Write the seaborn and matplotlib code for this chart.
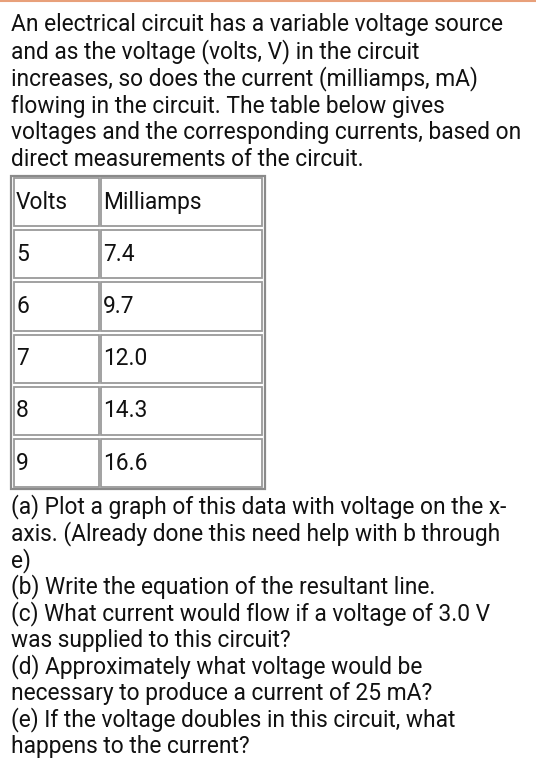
import matplotlib
matplotlib.use('Agg')
import matplotlib.pyplot as plt
import seaborn as sns
from matplotlib.patches import Rectangle

sns.set_style('white')
plt.rcParams['font.family'] = ['Roboto', 'DejaVu Sans']

intro_lines = [
    "An electrical circuit has a variable voltage source",
    "and as the voltage (volts, V) in the circuit",
    "increases, so does the current (milliamps, mA)",
    "flowing in the circuit. The table below gives",
    "voltages and the corresponding currents, based on",
    "direct measurements of the circuit.",
]
headers = ["Volts", "Milliamps"]
volts = ["5", "6", "7", "8", "9"]
milliamps = ["7.4", "9.7", "12.0", "14.3", "16.6"]
question_lines = [
    "(a) Plot a graph of this data with voltage on the x-",
    "axis. (Already done this need help with b through",
    "e)",
    "(b) Write the equation of the resultant line.",
    "(c) What current would flow if a voltage of 3.0 V",
    "was supplied to this circuit?",
    "(d) Approximately what voltage would be",
    "necessary to produce a current of 25 mA?",
    "(e) If the voltage doubles in this circuit, what",
    "happens to the current?",
]

W, H = 536, 767
fig = plt.figure(figsize=(W / 100, H / 100), dpi=100)
ax = fig.add_axes([0, 0, 1, 1])
ax.set_xlim(0, W)
ax.set_ylim(H, 0)
ax.axis('off')

fs = 16.4
# top accent line
ax.plot([0, W], [1, 1], color='#e8a07a', lw=1.5)

for i, line in enumerate(intro_lines):
    ax.text(11, 25 + i * 27, line, fontsize=fs, va='center', color='#111111')

# table
left, right, mid = 11, 265, 100
top = 176
row_h = 52.2
rows = [headers] + [[v, m] for v, m in zip(volts, milliamps)]
bottom = top + row_h * len(rows)
ax.add_patch(Rectangle((left, top), right - left, bottom - top, fill=False,
                       ec='#8a8a8a', lw=1.6))
for r, (a, b) in enumerate(rows):
    y0 = top + r * row_h
    for x0, x1, txt in [(left + 3, mid - 1, a), (mid + 1, right - 3, b)]:
        ax.add_patch(Rectangle((x0, y0 + 2), x1 - x0, row_h - 4, fill=False,
                               ec='#9a9a9a', lw=1.3))
        ax.text(x0 + 2, y0 + row_h / 2, txt, fontsize=fs, va='center',
                color='#111111')

for i, line in enumerate(question_lines):
    ax.text(11, 507 + i * 26.6, line, fontsize=fs, va='center', color='#111111')

fig.savefig('out.png', dpi=100)
